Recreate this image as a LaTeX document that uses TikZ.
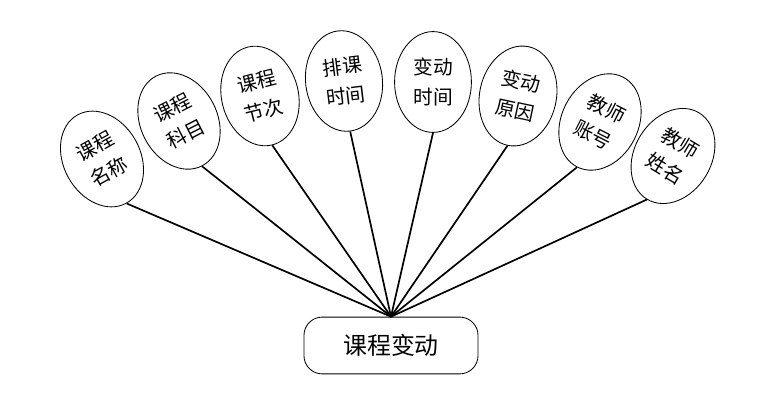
\documentclass[tikz,border=0pt]{standalone}
\usepackage{fontspec}
\newfontfamily\cjk{Noto Sans CJK SC}
\usetikzlibrary{shapes.geometric}

\begin{document}
\begin{tikzpicture}[
  x=0.025cm, y=-0.025cm,
  attr/.style={ellipse, draw, line width=0.6pt, minimum width=1.92cm,
               minimum height=2.52cm, align=center, inner sep=1pt,
               font=\cjk\fontsize{14}{21}\selectfont, rotate=#1},
  entity/.style={rectangle, rounded corners=13pt, draw, line width=0.6pt,
                 minimum width=4.35cm, minimum height=1.42cm,
                 font=\cjk\fontsize{17}{20}\selectfont},
  conn/.style={line width=1.2pt}
]
  \useasboundingbox (0,0) rectangle (771,405);
  \node[entity] (course) at (391,345.5) {课程变动};
  \node[attr=29]  (A1) at (102,159) {课程\\名称};
  \node[attr=27]  (A2) at (179,121) {课程\\科目};
  \node[attr=14]  (A3) at (260,96)  {课程\\节次};
  \node[attr=7]   (A4) at (344,81)  {排课\\时间};
  \node[attr=0]   (A5) at (433,82)  {变动\\时间};
  \node[attr=-12] (A6) at (518,96)  {变动\\原因};
  \node[attr=-27] (A7) at (600,122) {教师\\账号};
  \node[attr=-31] (A8) at (673,156) {教师\\姓名};
  \foreach \a in {A1,A2,A3,A4,A5,A6,A7,A8}
    \draw[conn] (course.north) -- (\a.south);
\end{tikzpicture}
\end{document}
